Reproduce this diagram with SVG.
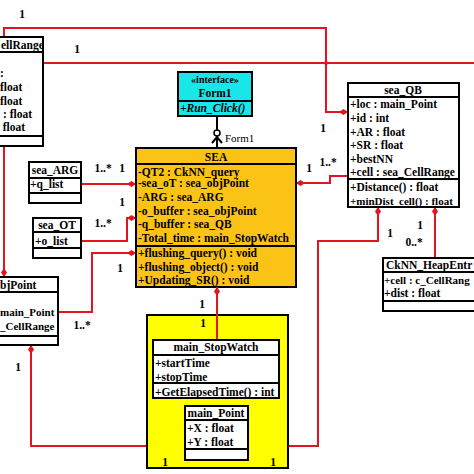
<svg xmlns="http://www.w3.org/2000/svg" width="474" height="474" viewBox="0 0 474 474">
<defs>
<style>
.t{font-family:"Liberation Serif","Times New Roman",serif;font-weight:bold;font-size:11.5px;fill:#000}
.m{text-anchor:middle}
.e{text-anchor:end}
.b{fill:#fff;stroke:#000;stroke-width:2}
.s{fill:none;stroke:#000;stroke-width:2}
.r{fill:none;stroke:#E3141E;stroke-width:2}
.d{marker-start:url(#dia)}
</style>
<marker id="dia" markerUnits="userSpaceOnUse" markerWidth="10" markerHeight="7" refX="0" refY="3.5" orient="auto" overflow="visible">
<path d="M0,3.5 L4.5,0.5 L9,3.5 L4.5,6.5 Z" fill="#E3141E"/>
</marker>
</defs>
<rect width="474" height="474" fill="#fff"/>

<g id="connectors">
<polyline class="r d" points="348,112 326,112 326,28 4,28 4,37"/>
<line class="r" x1="43" y1="63" x2="474" y2="63"/>
<circle cx="326" cy="63" r="2" fill="#E3141E"/>
<polyline class="r d" points="4,277 4,146"/>
<polyline class="r d" points="136,184 81,184"/>
<polyline class="r d" points="136,218 127,218 127,241 81,241"/>
<polyline class="r d" points="136,253 92,253 92,312 58,312"/>
<polyline class="r d" points="296,183 330,183 330,176 348,176"/>
<polyline class="r d" points="435,207 435,258"/>
<polyline class="r d" points="378,207 378,241 318,241 318,446 248,446"/>
<polyline class="r d" points="31,345 31,446 185,446"/>
<line class="s" x1="217" y1="116" x2="217" y2="148"/>
<circle cx="217" cy="133" r="3" fill="#fff" stroke="#000" stroke-width="1.5"/>
<polyline class="s" points="212,143 217,137 222,143"/>
<text class="t" x="225" y="142" style="font-weight:normal;font-size:11px">Form1</text>
<text class="t m" x="22" y="18">1</text>
<text class="t m" x="77" y="53">1</text>
<text class="t m" x="323" y="132">1</text>
<text class="t m" x="103" y="172">1..*</text>
<text class="t m" x="122" y="172">1</text>
<text class="t m" x="122" y="206">1</text>
<text class="t m" x="103" y="227">1..*</text>
<text class="t m" x="120" y="272">1</text>
<text class="t m" x="82" y="329">1..*</text>
<text class="t m" x="18" y="371">1</text>
<text class="t m" x="309" y="172">1</text>
<text class="t m" x="328" y="166">1..*</text>
<text class="t m" x="202" y="308">1</text>
<text class="t m" x="390" y="237">1</text>
<text class="t m" x="420" y="229">1</text>
<text class="t m" x="414" y="246">0..*</text>
</g>

<g id="sea_CellRange">
<rect class="b" x="-60" y="37" width="103" height="109"/>
<line class="s" x1="-60" y1="52" x2="43" y2="52"/>
<line class="s" x1="-60" y1="136" x2="43" y2="136"/>
<text class="t" x="1" y="49">ellRange</text>
<text class="t" x="0" y="77">:</text>
<text class="t" x="0" y="91">float</text>
<text class="t" x="0" y="105">float</text>
<text class="t e" x="32" y="118">: float</text>
<text class="t e" x="25" y="131">float</text>
</g>

<g id="sea_objPoint">
<rect class="b" x="-60" y="277" width="118" height="68"/>
<line class="s" x1="-60" y1="292" x2="58" y2="292"/>
<line class="s" x1="-60" y1="336" x2="58" y2="336"/>
<text class="t" x="0" y="289">bjPoint</text>
<text class="t" x="0" y="316" style="font-size:11px">main_Point</text>
<text class="t" x="0" y="330" style="font-size:11px">_CellRange</text>
</g>

<g id="Form1">
<rect x="178" y="72" width="74" height="44" fill="#19E6E8" stroke="#000" stroke-width="2"/>
<line class="s" x1="178" y1="101" x2="252" y2="101"/>
<text class="t m" x="215" y="83" style="font-size:10px">«interface»</text>
<text class="t m" x="215" y="97">Form1</text>
<text class="t" x="180" y="112" style="font-style:italic">+Run_Click()</text>
</g>

<g id="SEA">
<rect x="136" y="148" width="160" height="139" fill="#FBC316" stroke="#000" stroke-width="2"/>
<line class="s" x1="136" y1="164" x2="296" y2="164"/>
<line class="s" x1="136" y1="246" x2="296" y2="246"/>
<text class="t m" x="216" y="161">SEA</text>
<text class="t" x="138" y="176">-QT2 : CkNN_query</text>
<text class="t" x="138" y="187">-sea_oT : sea_objPoint</text>
<text class="t" x="138" y="201">-ARG : sea_ARG</text>
<text class="t" x="138" y="215">-o_buffer : sea_objPoint</text>
<text class="t" x="138" y="228">-q_buffer : sea_QB</text>
<text class="t" x="138" y="242">-Total_time : main_StopWatch</text>
<text class="t" x="138" y="257">+flushing_query() : void</text>
<text class="t" x="138" y="271">+flushing_object() : void</text>
<text class="t" x="138" y="284">+Updating_SR() : void</text>
</g>

<g id="sea_QB">
<rect class="b" x="348" y="83" width="111" height="124"/>
<line class="s" x1="348" y1="97" x2="459" y2="97"/>
<line class="s" x1="348" y1="179" x2="459" y2="179"/>
<text class="t m" x="403" y="94">sea_QB</text>
<text class="t" x="350" y="108">+loc : main_Point</text>
<text class="t" x="350" y="122">+id : int</text>
<text class="t" x="350" y="136">+AR : float</text>
<text class="t" x="350" y="149">+SR : float</text>
<text class="t" x="350" y="163">+bestNN</text>
<text class="t" x="350" y="176">+cell : sea_CellRange</text>
<text class="t" x="350" y="191">+Distance() : float</text>
<text class="t" x="350" y="205" style="font-size:11px">+minDist_cell() : float</text>
</g>

<g id="sea_ARG">
<rect class="b" x="29" y="162" width="52" height="41"/>
<line class="s" x1="29" y1="178" x2="81" y2="178"/>
<line class="s" x1="29" y1="193" x2="81" y2="193"/>
<text class="t m" x="55" y="174">sea_ARG</text>
<text class="t" x="30" y="188">+q_list</text>
</g>

<g id="sea_OT">
<rect class="b" x="33" y="218" width="48" height="40"/>
<line class="s" x1="33" y1="232" x2="81" y2="232"/>
<line class="s" x1="33" y1="248" x2="81" y2="248"/>
<text class="t m" x="57" y="229">sea_OT</text>
<text class="t" x="35" y="245">+o_list</text>
</g>

<g id="CkNN_HeapEntry">
<rect class="b" x="383" y="258" width="120" height="53"/>
<line class="s" x1="383" y1="272" x2="503" y2="272"/>
<line class="s" x1="383" y1="301" x2="503" y2="301"/>
<text class="t" x="386" y="269">CkNN_HeapEntr</text>
<text class="t" x="384" y="284" style="font-size:11px">+cell : c_CellRang</text>
<text class="t" x="384" y="297">+dist : float</text>
</g>

<g id="container">
<rect x="147" y="315" width="141" height="153" fill="#FFFF00" stroke="#000" stroke-width="2"/>
<text class="t m" x="203" y="327">1</text>
<text class="t m" x="165" y="466">1</text>
<text class="t m" x="273" y="466">1</text>
<polyline class="r d" points="217,287 217,340"/>
</g>

<g id="main_StopWatch">
<rect class="b" x="153" y="340" width="126" height="58"/>
<line class="s" x1="153" y1="355" x2="279" y2="355"/>
<line class="s" x1="153" y1="383" x2="279" y2="383"/>
<text class="t m" x="216" y="351">main_StopWatch</text>
<text class="t" x="155" y="367">+startTime</text>
<text class="t" x="155" y="381">+stopTime</text>
<text class="t" x="155" y="396">+GetElapsedTime() : int</text>
</g>

<g id="main_Point">
<rect class="b" x="185" y="406" width="63" height="54"/>
<line class="s" x1="185" y1="420" x2="248" y2="420"/>
<line class="s" x1="185" y1="449" x2="248" y2="449"/>
<text class="t m" x="216" y="417">main_Point</text>
<text class="t" x="187" y="432">+X : float</text>
<text class="t" x="187" y="446">+Y : float</text>
</g>
</svg>
